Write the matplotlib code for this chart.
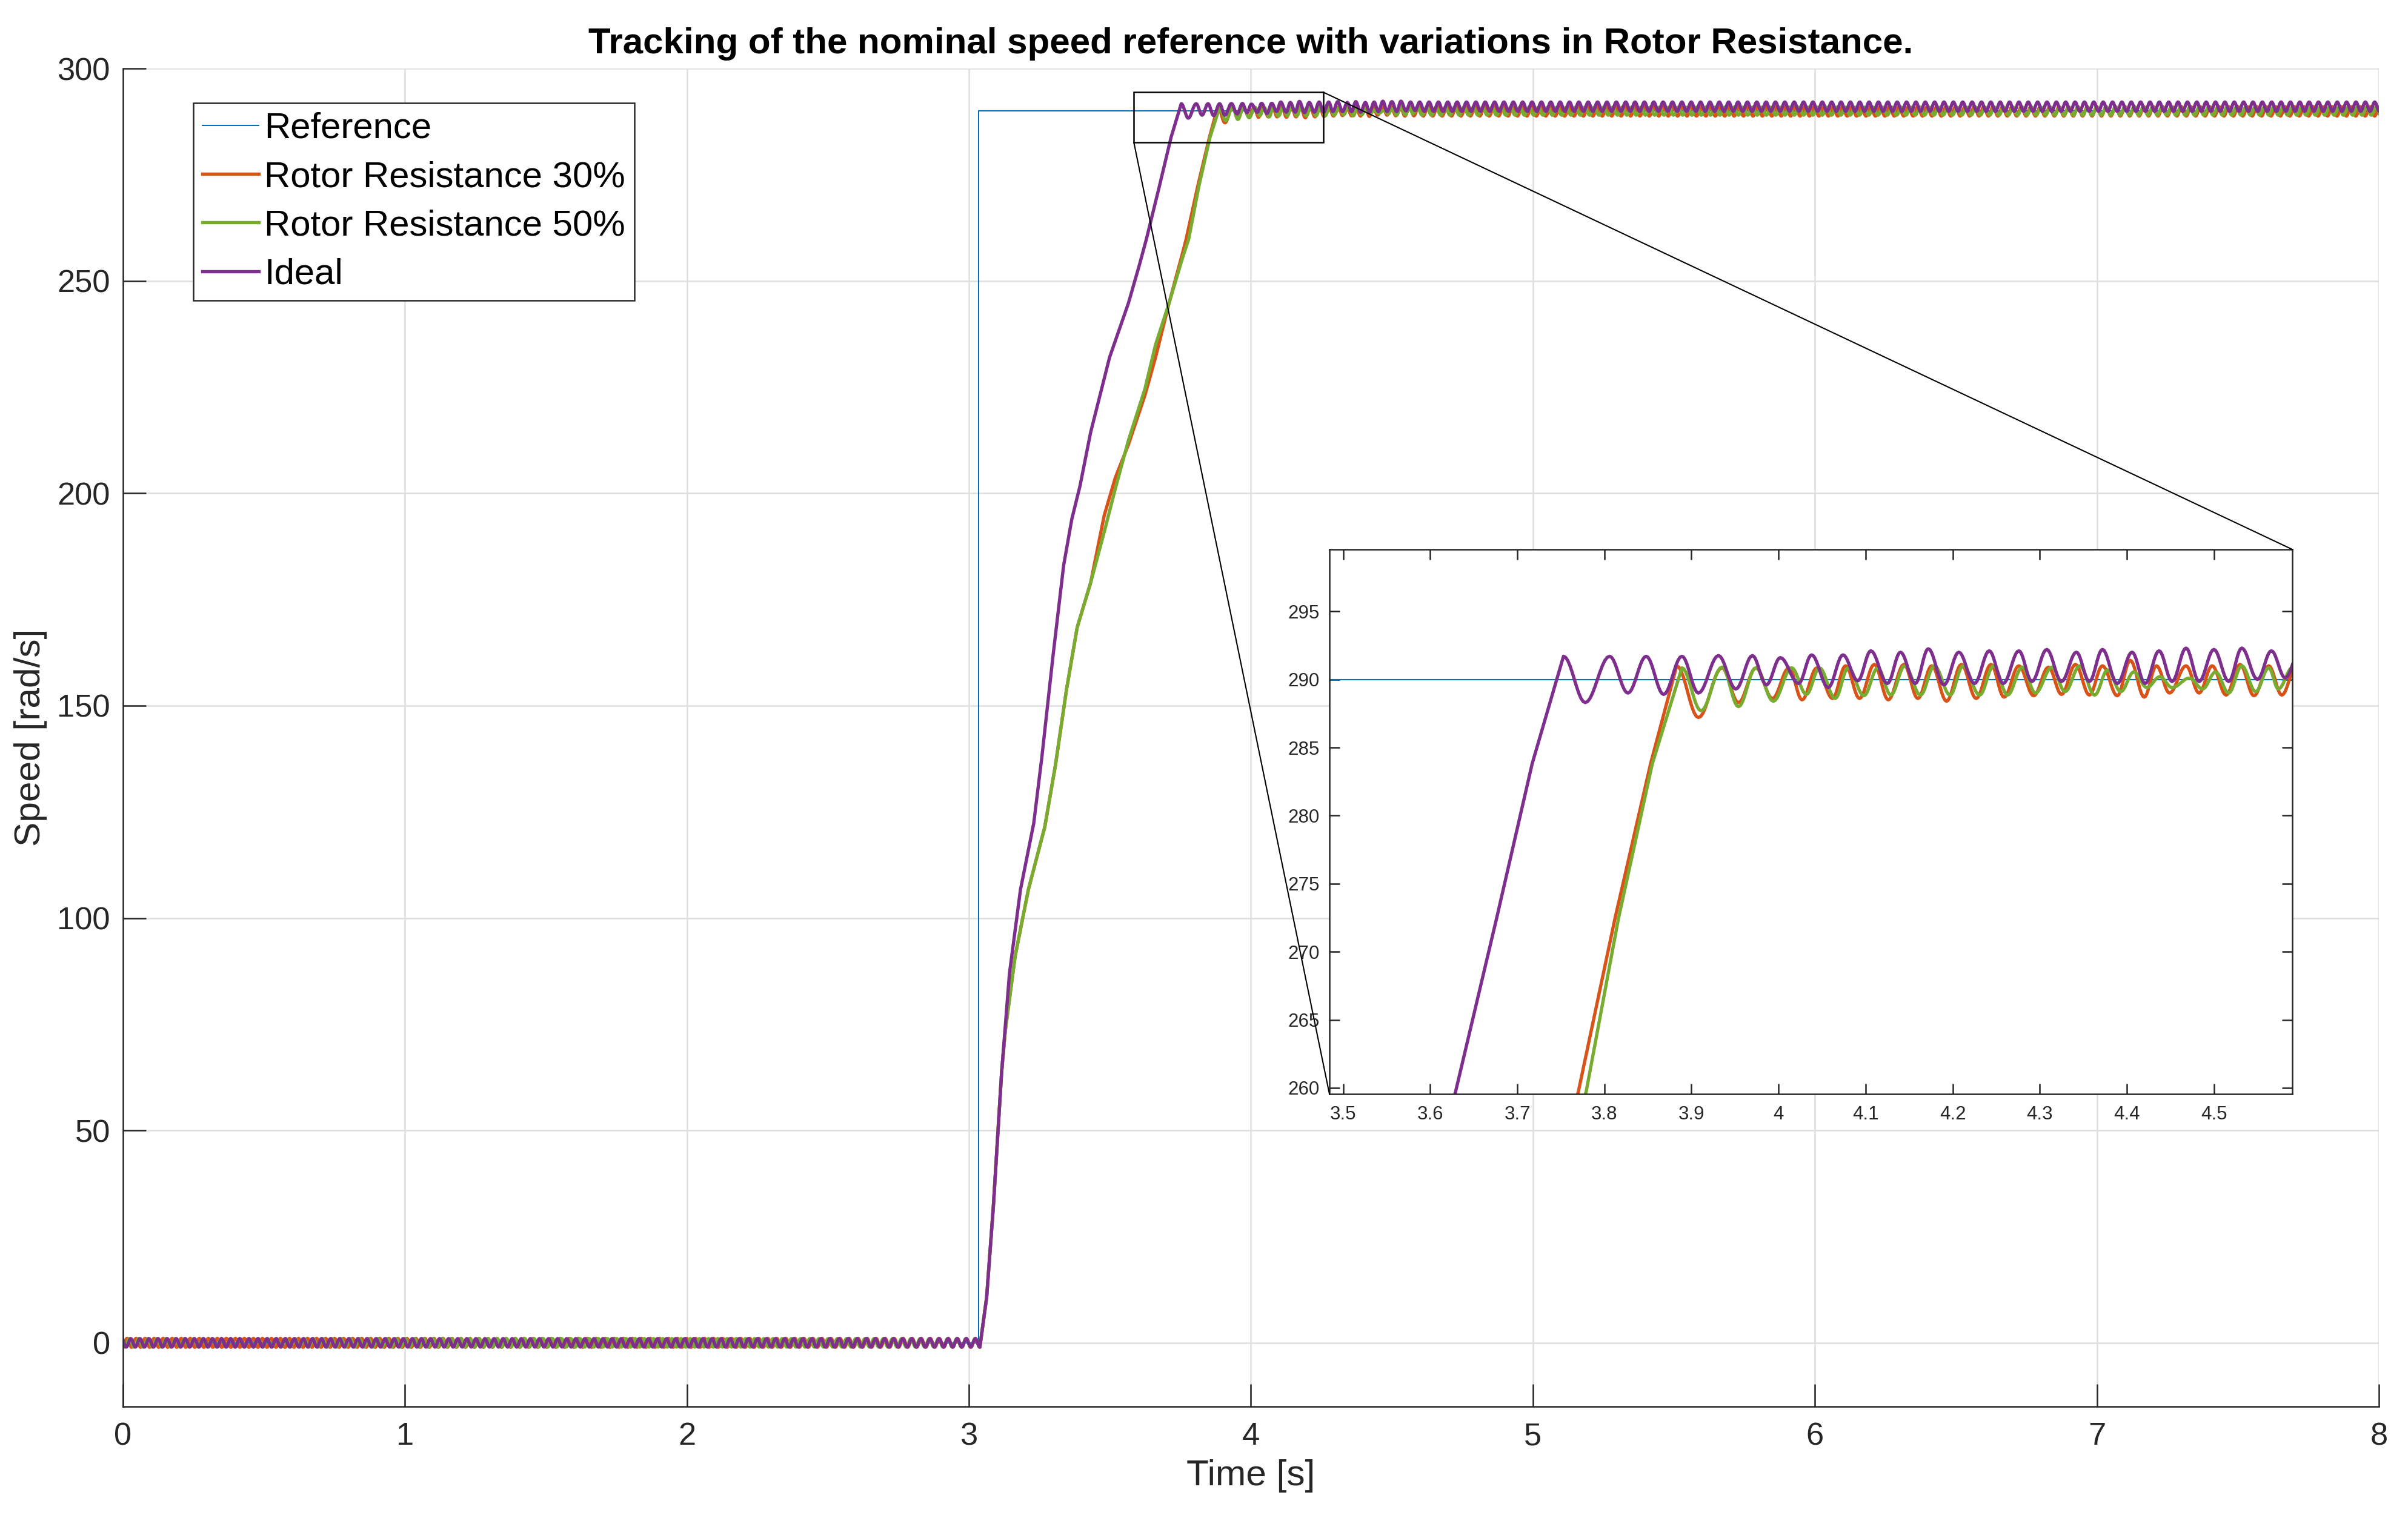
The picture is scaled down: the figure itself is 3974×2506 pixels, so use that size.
import numpy as np
import matplotlib
matplotlib.use("Agg")
import matplotlib.pyplot as plt
from matplotlib.patches import Rectangle, ConnectionPatch

plt.rcParams['font.family'] = ['Liberation Sans', 'DejaVu Sans']

# ---- data ----
labels = ['Reference', 'Rotor Resistance 30%', 'Rotor Resistance 50%', 'Ideal']
colors = ['#0072BD', '#D95319', '#77AC30', '#7E2F8E']

ref_t = [0, 3.034, 3.034, 8]
ref_v = [0, 0, 290, 290]

# start-up ripple before the step (half period [s], amplitude)
pre_half = {'r30': 0.0160, 'r50': 0.0163, 'ideal': 0.0161}
pre_amp = {'r30': 1.05, 'r50': 1.0, 'ideal': 1.0}

# acceleration ramps
rise_t = {
    'ideal': [3.039, 3.063, 3.087, 3.116, 3.144, 3.183, 3.230, 3.259, 3.298, 3.336,
              3.365, 3.394, 3.432, 3.499, 3.566, 3.604, 3.629, 3.676, 3.717],
    'r30': [3.039, 3.063, 3.087, 3.116, 3.129, 3.164, 3.211, 3.269, 3.307, 3.346,
            3.384, 3.432, 3.480, 3.519, 3.566, 3.624, 3.662, 3.710, 3.758, 3.770,
            3.812, 3.853],
    'r50': [3.039, 3.063, 3.087, 3.116, 3.129, 3.164, 3.211, 3.269, 3.307, 3.346,
            3.384, 3.432, 3.480, 3.519, 3.566, 3.624, 3.662, 3.710, 3.758, 3.779,
            3.816, 3.855],
}
rise_v = {
    'ideal': [-1.0, 10.7, 32.3, 63.6, 87.0, 106.7, 122.3, 138.0, 161.5, 183.0,
              193.9, 201.7, 214.4, 232.0, 244.8, 253.6, 259.7, 272.4, 283.8],
    'r30': [-1.0, 10.7, 32.3, 63.6, 73.4, 91.0, 106.7, 121.4, 136.0, 153.7,
            168.4, 179.0, 194.8, 203.6, 211.5, 223.0, 232.0, 244.8, 256.6, 259.7,
            272.4, 283.8],
    'r50': [-1.0, 10.7, 32.3, 63.6, 73.4, 91.0, 106.7, 121.4, 136.0, 153.7,
            168.4, 179.0, 190.9, 201.0, 212.5, 224.5, 235.0, 244.8, 255.5, 259.7,
            272.4, 283.8],
}

# peaks / troughs after reaching the set point (read in the zoom window)
ext_t = {
    'ideal': [3.753, 3.778, 3.806, 3.827, 3.848, 3.868, 3.889, 3.908, 3.931, 3.951,
              3.970, 3.986, 4.002, 4.023, 4.038, 4.057, 4.074, 4.091, 4.106, 4.125,
              4.140, 4.157, 4.172, 4.190, 4.207, 4.225, 4.242, 4.258, 4.276, 4.291,
              4.308, 4.325, 4.342, 4.357, 4.372, 4.389, 4.406, 4.421, 4.437, 4.452,
              4.468, 4.483, 4.500, 4.517, 4.532, 4.550, 4.566, 4.582],
    'r30': [3.883, 3.908, 3.935, 3.954, 3.974, 3.993, 4.012, 4.027, 4.044, 4.062,
            4.077, 4.093, 4.110, 4.126, 4.144, 4.160, 4.176, 4.193, 4.210, 4.227,
            4.244, 4.259, 4.276, 4.293, 4.310, 4.325, 4.341, 4.357, 4.372, 4.389,
            4.404, 4.420, 4.434, 4.449, 4.468, 4.483, 4.498, 4.514, 4.530, 4.546,
            4.563, 4.578],
    'r50': [3.889, 3.911, 3.935, 3.954, 3.974, 3.994, 4.015, 4.032, 4.047, 4.065,
            4.080, 4.098, 4.114, 4.129, 4.145, 4.163, 4.179, 4.197, 4.212, 4.231,
            4.247, 4.263, 4.280, 4.295, 4.314, 4.329, 4.346, 4.363, 4.378, 4.393,
            4.408, 4.423, 4.438, 4.452, 4.472, 4.487, 4.502, 4.517, 4.532, 4.548,
            4.563, 4.574],
}
ext_v = {
    'ideal': [291.7, 288.3, 291.7, 289.0, 291.7, 288.9, 291.7, 289.0, 291.75, 289.3,
              291.75, 289.6, 291.6, 289.7, 291.8, 289.4, 291.8, 289.9, 292.1, 289.7,
              292.0, 289.7, 292.25, 289.6, 292.0, 289.7, 292.1, 289.7, 292.1, 289.85,
              292.2, 289.85, 292.0, 289.85, 292.2, 289.7, 292.0, 289.7, 292.1, 289.85,
              292.3, 289.85, 292.2, 289.85, 292.3, 290.0, 292.1, 290.1],
    'r30': [291.0, 287.2, 290.85, 288.3, 290.85, 288.6, 290.85, 288.5, 290.85, 288.6,
            291.0, 288.6, 291.1, 288.5, 291.1, 288.6, 291.0, 288.4, 291.1, 288.6,
            291.1, 288.7, 291.0, 288.8, 290.9, 288.9, 291.1, 288.85, 291.0, 288.8,
            291.4, 288.7, 291.0, 289.0, 291.0, 289.0, 291.0, 288.85, 291.1, 288.8,
            291.0, 288.85],
    'r50': [290.85, 287.7, 290.9, 288.0, 290.85, 288.4, 290.85, 288.9, 290.85, 288.6,
            290.85, 288.8, 290.85, 288.85, 291.0, 288.85, 291.0, 288.85, 291.0, 288.85,
            291.0, 288.85, 290.9, 289.0, 290.9, 289.1, 291.0, 288.85, 290.7, 289.1,
            290.55, 289.4, 290.2, 289.4, 290.1, 289.3, 290.55, 289.0, 291.0, 289.1,
            290.85, 289.3],
}

# steady-state ripple up to 8 s (half period [s], high, low)
post_half = {'ideal': 0.0166, 'r30': 0.0167, 'r50': 0.0165}
post_hi = {'ideal': 292.1, 'r30': 291.0, 'r50': 290.9}
post_lo = {'ideal': 289.9, 'r30': 288.8, 'r50': 289.0}


def half_cos(tk, vk, n=10):
    # smooth swing between consecutive extrema
    tk = np.asarray(tk, float)
    vk = np.asarray(vk, float)
    s = np.linspace(0, 1, n, endpoint=False)
    w = (1 - np.cos(np.pi * s)) / 2
    t = (tk[:-1, None] + np.diff(tk)[:, None] * s).ravel()
    v = (vk[:-1, None] + np.diff(vk)[:, None] * w).ravel()
    return np.append(t, tk[-1]), np.append(v, vk[-1])


def build(key):
    t0 = rise_t[key][0]
    n_pre = int(t0 / pre_half[key]) + 2
    k = np.arange(n_pre)[::-1]
    a_t, a_v = half_cos(t0 - pre_half[key] * k, np.where(k % 2 == 0, -1, 1) * pre_amp[key])

    b_t = np.array(rise_t[key][1:])
    b_v = np.array(rise_v[key][1:])

    c_t, c_v = half_cos(ext_t[key], ext_v[key])

    n_post = int((8.05 - ext_t[key][-1]) / post_half[key])
    j = np.arange(1, n_post)
    p_t = np.r_[ext_t[key][-1], ext_t[key][-1] + post_half[key] * j]
    p_v = np.r_[ext_v[key][-1], np.where(j % 2 == 1, post_hi[key], post_lo[key])]
    d_t, d_v = half_cos(p_t, p_v)

    return np.r_[a_t, b_t, c_t, d_t[1:]], np.r_[a_v, b_v, c_v, d_v[1:]]


curves = [(ref_t, ref_v, 0.5)]
for key in ['r30', 'r50', 'ideal']:
    tt, vv = build(key)
    curves.append((tt, vv, 1.3))

dark = '#262626'
fig = plt.figure(figsize=(3974 / 300, 2506 / 300), dpi=300)
ax = fig.add_axes([0.05101, 0.07342, 0.93692, 0.88148])

for (tt, vv, lw), c, lab in zip(curves, colors, labels):
    ax.plot(tt, vv, color=c, lw=lw, label=lab)

ax.set_xlim(0, 8)
ax.set_ylim(-15, 300)
ax.set_xticks(range(0, 9))
ax.set_yticks(range(0, 301, 50))
ax.grid(True, color='#dfdfdf', lw=0.6)
ax.set_axisbelow(True)
for side in ['top', 'right']:
    ax.spines[side].set_visible(False)
for side in ['left', 'bottom']:
    ax.spines[side].set_color(dark)
    ax.spines[side].set_linewidth(0.6)
ax.tick_params(direction='in', length=9, width=0.6, colors=dark, labelsize=12.6)
ax.tick_params(axis='x', pad=6)
ax.tick_params(axis='y', pad=5)
ax.set_xlabel('Time [s]', fontsize=14.5, color=dark, labelpad=3)
ax.set_ylabel('Speed [rad/s]', fontsize=14.5, color=dark, labelpad=4)
ax.set_title('Tracking of the nominal speed reference with variations in Rotor Resistance.',
             fontsize=14.4, fontweight='bold', pad=6)

leg = ax.legend(loc='upper left', bbox_to_anchor=(0.0803, 0.9322), bbox_transform=fig.transFigure,
                fontsize=14.4, frameon=True, fancybox=False, framealpha=1, borderaxespad=0,
                handlelength=1.55, handletextpad=0.15, labelspacing=0.42, borderpad=0.25)
leg.get_frame().set_edgecolor(dark)
leg.get_frame().set_linewidth(0.6)

# zoom window
rect_x0, rect_x1 = 3.585, 4.257
rect_y0, rect_y1 = 282.6, 294.4
ax.add_patch(Rectangle((rect_x0, rect_y0), rect_x1 - rect_x0, rect_y1 - rect_y0,
                       fill=False, ec='black', lw=0.6, zorder=5))

axin = fig.add_axes([0.55209, 0.27933, 0.39985, 0.35874])
for (tt, vv, lw), c in zip(curves, colors):
    axin.plot(tt, vv, color=c, lw=lw)
axin.set_xlim(3.4842, 4.59)
axin.set_ylim(259.55, 299.55)
axin.set_xticks(np.round(np.arange(3.5, 4.51, 0.1), 1))
axin.set_xticklabels(['3.5', '3.6', '3.7', '3.8', '3.9', '4', '4.1', '4.2', '4.3', '4.4', '4.5'])
axin.set_yticks(range(260, 296, 5))
for sp in axin.spines.values():
    sp.set_color(dark)
    sp.set_linewidth(0.6)
axin.tick_params(direction='in', length=4, width=0.6, colors=dark, labelsize=7.5,
                 top=True, right=True)
axin.tick_params(axis='x', pad=4.5)
axin.tick_params(axis='y', pad=4)

for xy_a, xy_b in [((rect_x1, rect_y1), (1, 1)), ((rect_x0, rect_y0), (0, 0))]:
    con = ConnectionPatch(xyA=xy_a, coordsA=ax.transData, xyB=xy_b, coordsB=axin.transAxes,
                          color='black', lw=0.5)
    fig.add_artist(con)

fig.savefig('out.png', dpi=300)
